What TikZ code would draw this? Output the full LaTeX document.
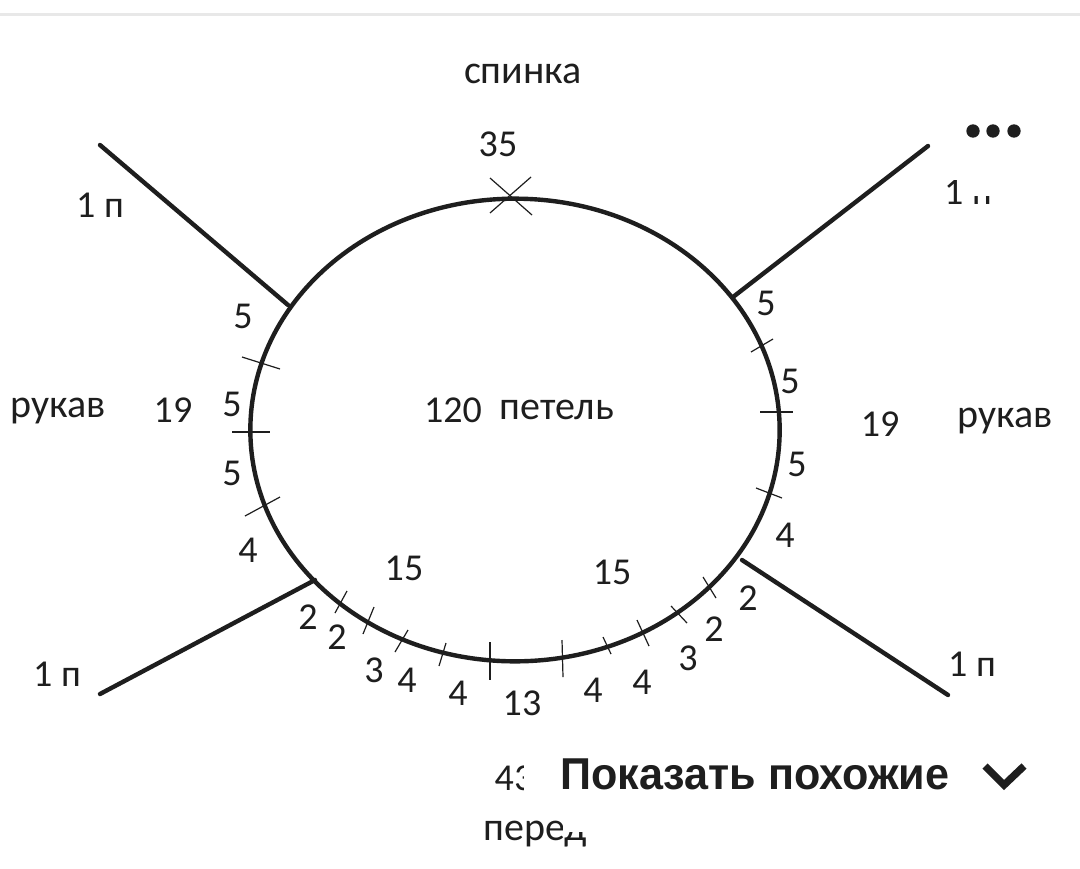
\documentclass[tikz,border=0pt]{standalone}
\usepackage{fontspec}
\setmainfont{Carlito}
\newfontfamily\uifont{Liberation Sans}
\usetikzlibrary{shapes.geometric}
\definecolor{ink}{HTML}{1E1E1E}
\tikzset{
  lab/.style={font=\fontsize{28.5}{30}\selectfont, text=ink, inner sep=0pt, anchor=center},
  wrd/.style={font=\fontsize{30}{32}\selectfont, text=ink, inner sep=0pt, anchor=center},
  heavy/.style={line width=3.3pt, draw=ink, line cap=round},
  tick/.style={line width=0.9pt, draw=ink},
  mask/.style={fill=white, draw=none},
}
\begin{document}
\begin{tikzpicture}[x=0.75pt,y=-0.75pt]
\useasboundingbox (0,0) rectangle (1080,868);
\fill[white] (0,0) rectangle (1080,868);
\fill[black!9] (0,13) rectangle (1080,16);
% ring
\node[ellipse, heavy, minimum width=397pt, minimum height=347pt, inner sep=0pt] (ring) at (515,430) {};
% spokes
\coordinate (sa) at (100,145); \coordinate (sa2) at (288,305);
\coordinate (sb) at (928,146); \coordinate (sb2) at (733,297);
\coordinate (sc) at (100,694); \coordinate (sc2) at (315,580);
\coordinate (sd) at (948,695); \coordinate (sd2) at (742,560);
\draw[heavy] (sa) -- (sa2);
\draw[heavy] (sb) -- (sb2);
\draw[heavy] (sc) -- (sc2);
\draw[heavy] (sd) -- (sd2);
% top cross
\draw[tick] (490,178) -- (532,215);
\draw[tick] (531,177) -- (490,213);
% left and right ticks
\draw[tick] (242,357) -- (280,369);
\draw[tick] (232,432) -- (270,432);
\draw[tick] (245,516) -- (280,497);
\draw[tick] (751,352) -- (773,339);
\draw[tick] (760,412) -- (793,412);
\draw[tick] (756,488) -- (782,498);
% bottom ticks
\draw[tick] (335,613) -- (347,591);
\draw[tick] (363,634) -- (374,607);
\draw[tick] (395,652) -- (408,630);
\draw[tick] (439,666) -- (446,643);
\draw[tick] (490,642) -- (490,680);
\draw[tick] (562,640) -- (563,677);
\draw[tick] (603,637) -- (611,654);
\draw[tick] (637,620) -- (649,646);
\draw[tick] (671,606) -- (687,623);
\draw[tick] (703,577) -- (716,598);
% labels
\node[wrd] (t1) at (523,74) {спинка};
\node[lab] (t2) at (498,144) {35};
\node[lab] (t3) at (100,205) {1 п};
\node[lab] (t4) at (243,316) {5};
\node[lab] (t5) at (232,404) {5};
\node[lab] (t6) at (173,410) {19};
\node[wrd] (t7) at (58,411) {рукав};
\node[lab] (t8) at (232,473) {5};
\node[lab] (t9) at (248,550) {4};
\node[lab] (t10) at (404,568) {15};
\node[lab] (t11) at (612,572) {15};
\node[lab] (t12) at (453,410) {120};
\node[wrd] (t13) at (557,410) {петель};
\node[lab] (t14) at (880,424) {19};
\node[wrd] (t15) at (1005,421) {рукав};
\node[lab] (t16) at (766,303) {5};
\node[lab] (t17) at (790,381) {5};
\node[lab] (t18) at (797,464) {5};
\node[lab] (t19) at (785,535) {4};
\node[lab] (t20) at (308,617) {2};
\node[lab] (t21) at (337,637) {2};
\node[lab] (t22) at (374,670) {3};
\node[lab] (t23) at (407,680) {4};
\node[lab] (t24) at (458,693) {4};
\node[lab] (t25) at (522,703) {13};
\node[lab] (t26) at (593,690) {4};
\node[lab] (t27) at (642,682) {4};
\node[lab] (t28) at (688,658) {3};
\node[lab] (t29) at (714,629) {2};
\node[lab] (t30) at (748,598) {2};
\node[lab] (t31) at (57,674) {1 п};
\node[lab] (t32) at (972,664) {1 п};
\node[lab] (t33) at (968,192) {1 п};
\node[lab] (t34) at (514,778) {43};
\node[wrd] (t35) at (535,834) {перед};
% overlay panels
\fill[mask] (970,150) rectangle (1040,196);
\fill[mask] (940,150) rectangle (1040,180);
\fill[mask] (524,750) rectangle (1040,800);
\fill[mask] (563,800) rectangle (1040,832);
\foreach \px/\nm in {973/da,993/db,1014/dc}
  \node[circle, fill=ink, inner sep=0pt, minimum size=10pt] (\nm) at (\px,131) {};
\node[font=\uifont\bfseries\fontsize{33.5}{35}\selectfont, text=ink, inner sep=0pt, anchor=west, xscale=0.965] (ui) at (560,774) {Показать похожие};
\coordinate (ca) at (985,766); \coordinate (cb) at (1004,785); \coordinate (cc) at (1024,766);
\draw[ink, line width=5.5pt] (ca) -- (cb) -- (cc);
\end{tikzpicture}
\end{document}
